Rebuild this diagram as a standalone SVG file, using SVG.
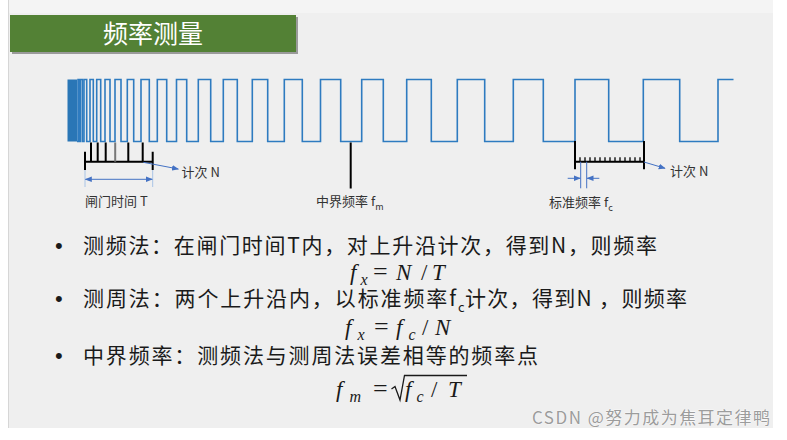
<svg xmlns="http://www.w3.org/2000/svg" width="787" height="440" viewBox="0 0 787 440">
<defs>
<style>
.cjk{font-family:"Noto Sans CJK SC","Noto Sans",sans-serif;}
.lbl{font-family:"Noto Sans CJK SC","Noto Sans",sans-serif;font-size:13px;fill:#333;}
.body{font-family:"Noto Sans CJK SC","Noto Sans",sans-serif;font-size:21px;fill:#1a1a1a;}
.bul{font-family:"Liberation Sans",sans-serif;font-size:22px;fill:#1a1a1a;}
.math{font-family:"Liberation Serif",serif;font-style:italic;font-size:23px;fill:#1a1a1a;}
.up{font-style:normal;}
.sub{font-size:16px;}
.blk{stroke:#000;stroke-width:2;fill:none;}
.blu{stroke:#4472c4;stroke-width:1;fill:none;}
.lb{stroke:#a9c4e6;stroke-width:1;fill:none;}
</style>
<marker id="ah" viewBox="0 0 10 10" refX="9" refY="5" markerWidth="7" markerHeight="7" orient="auto-start-reverse" markerUnits="userSpaceOnUse">
<path d="M0,1 L10,5 L0,9 Z" fill="#4472c4"/>
</marker>
</defs>
<rect x="0" y="0" width="787" height="440" fill="#ffffff"/>
<rect x="8" y="0" width="765" height="428" fill="#efefef"/>
<rect x="8" y="0" width="765" height="13" fill="#f4f4f4"/>
<line x1="8.5" y1="0" x2="8.5" y2="428" stroke="#d6d6d6" stroke-width="1"/>

<g id="title">
<rect x="12" y="17" width="286" height="37" fill="#9a9a9a"/>
<rect x="10" y="15" width="286" height="37" fill="#538135"/>
<text x="153" y="43" text-anchor="middle" class="cjk" font-size="25" fill="#ffffff">频率测量</text>
</g>

<g id="waveform">
<rect x="67.5" y="79.5" width="9.5" height="62" fill="#2a76b6"/>
<path d="M77,141.5 H78 V79.5 H79.3 V141.5 H80.3 V79.5 H82.3 V141.5 H84 V79.5 H86.7 V141.5 H90 V79.5 H93.3 V141.5 H96.7 V79.5 H100.7 V141.5 H105 V79.5 H110 V141.5 H115 V79.5 H121 V141.5 H127.3 V79.5 H133.7 V141.5 H141 V79.5 H149.3 V141.5 H157.3 V79.5 H166.7 V141.5 H176.5 V79.5 H186.7 V141.5 H198.3 V79.5 H210.7 V141.5 H223.3 V79.5 H237.3 V141.5 H252.3 V79.5 H267.7 V141.5 H284.3 V79.5 H302.3 V141.5 H320.5 V79.5 H340.7 V141.5 H361.7 V79.5 H383.3 V141.5 H406.7 V79.5 H431.3 V141.5 H457.3 V79.5 H484.7 V141.5 H513.3 V79.5 H543.3 V141.5 H575 V79.5 H608.7 V141.5 H643.3 V79.5 H679.7 V141.5 H718 V79.5 H733.5" fill="none" stroke="#2e7bc0" stroke-width="1.6"/>
</g>

<g id="gate-marker">
<path class="blk" d="M85,151.7 V170 M152.7,151.7 V170 M85,161.7 H152.7 M91,142.5 V161.7 M97.7,142.5 V161.7 M105.7,142.5 V161.7 M128.3,142.5 V161.7 M142.7,142.5 V161.7"/>
<line x1="115.2" y1="142.5" x2="115.2" y2="161.7" stroke="#777" stroke-width="2"/>
<path class="lb" d="M85,170 V187 M152.7,170 V187"/>
<text x="85" y="206" class="lbl">闸门时间 T</text>
</g>

<g id="mid-marker">
<line x1="350.7" y1="142.5" x2="350.7" y2="188.5" stroke="#000" stroke-width="2"/>
<text x="316" y="206" class="lbl">中界频率 f<tspan font-size="9" dy="4">m</tspan></text>
</g>

<g id="std-marker">
<path class="blk" d="M575,141 V169.3 M644,141 V169.3 M575,161.7 H644"/>
<path stroke="#000" stroke-width="1.3" fill="none" d="M580,157.3 V161.7 M585,157.3 V161.7 M590,157.3 V161.7 M595,157.3 V161.7 M600,157.3 V161.7 M605,157.3 V161.7 M610,157.3 V161.7 M615,157.3 V161.7 M620,157.3 V161.7 M625,157.3 V161.7 M630,157.3 V161.7 M635,157.3 V161.7 M640,157.3 V161.7"/>
<path class="blu" d="M580.7,161.7 V188.3 M586.7,161.7 V188.3"/>
<text x="549" y="207" class="lbl">标准频率 f<tspan font-size="9" dy="4">c</tspan></text>
</g>

<g id="count-label-1"><text x="181.5" y="176.5" class="lbl">计次 N</text></g>
<g id="count-label-2"><text x="670" y="176" class="lbl">计次 N</text></g>

<g id="connectors">
<line class="blu" x1="143.3" y1="162.3" x2="178.3" y2="169" marker-end="url(#ah)"/>
<line class="blu" x1="85.5" y1="179.3" x2="152.2" y2="179.3" marker-start="url(#ah)" marker-end="url(#ah)"/>
<line class="blu" x1="644" y1="162" x2="665" y2="168.3" marker-end="url(#ah)"/>
<line class="blu" x1="567.7" y1="178.3" x2="580.2" y2="178.3" marker-end="url(#ah)"/>
<line class="blu" x1="599.3" y1="178.3" x2="587.2" y2="178.3" marker-end="url(#ah)"/>
</g>

<g id="bullets">
<text x="55" y="253" class="bul">•</text>
<text x="83" y="253" class="body" textLength="574" lengthAdjust="spacing">测频法：在闸门时间T内，对上升沿计次，得到N，则频率</text>
<text class="math"><tspan x="350" y="280">f</tspan><tspan class="sub" x="360.5" y="285">x</tspan><tspan class="up" x="373" y="280" font-size="26">=</tspan><tspan x="396" y="280">N</tspan><tspan class="up" x="421" y="280">/</tspan><tspan x="432" y="280">T</tspan></text>

<text x="55" y="306" class="bul">•</text>
<text x="83" y="306" class="body" textLength="373" lengthAdjust="spacing">测周法：两个上升沿内，以标准频率f</text>
<text x="458" y="311.5" class="cjk" font-size="13" fill="#1a1a1a">c</text>
<text x="465" y="306" class="body" textLength="222" lengthAdjust="spacing">计次，得到N ，则频率</text>
<text class="math"><tspan x="345" y="335">f</tspan><tspan class="sub" x="357.5" y="340">x</tspan><tspan class="up" x="374" y="335" font-size="26">=</tspan><tspan x="396" y="335">f</tspan><tspan class="sub" x="408.5" y="340">c</tspan><tspan class="up" x="422" y="335">/</tspan><tspan x="435" y="335">N</tspan></text>

<text x="55" y="363" class="bul">•</text>
<text x="83" y="363" class="body" textLength="455" lengthAdjust="spacing">中界频率：测频法与测周法误差相等的频率点</text>
<text class="math"><tspan x="336" y="397">f</tspan><tspan class="sub" x="349.5" y="402">m</tspan><tspan class="up" x="373" y="397" font-size="26">=</tspan><tspan x="405" y="397">f</tspan><tspan class="sub" x="416.5" y="402">c</tspan><tspan class="up" x="431" y="397">/</tspan><tspan x="448" y="397">T</tspan></text>
<path d="M391.5,389 L395,386.5 L400,400 L404.5,375.5 H467" fill="none" stroke="#1a1a1a" stroke-width="1.3"/>
</g>

<g id="watermark">
<text x="532" y="424" class="cjk" font-size="17" fill="#9c9c9c" stroke="#ffffff" stroke-width="0.6" paint-order="stroke" textLength="238" lengthAdjust="spacing">CSDN @努力成为焦耳定律鸭</text>
</g>
</svg>
